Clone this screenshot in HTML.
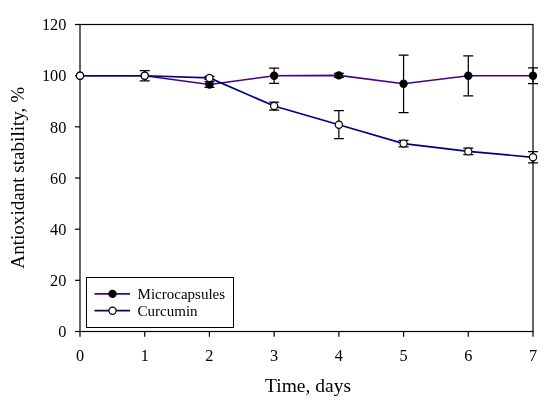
<!DOCTYPE html>
<html><head><meta charset="utf-8"><title>Antioxidant stability</title>
<style>html,body{margin:0;padding:0;background:#fff}body{width:550px;height:402px;overflow:hidden}</style></head>
<body>
<svg width="550" height="402" viewBox="0 0 550 402" style="display:block;font-family:'Liberation Serif',serif">
<rect width="550" height="402" fill="#fff"/>
<g stroke="#000" stroke-width="1.2" fill="none">
<rect x="80.0" y="24.5" width="453.0" height="307.0"/>
<line x1="75.0" y1="331.50" x2="80.0" y2="331.50"/>
<line x1="75.0" y1="280.33" x2="80.0" y2="280.33"/>
<line x1="75.0" y1="229.17" x2="80.0" y2="229.17"/>
<line x1="75.0" y1="178.00" x2="80.0" y2="178.00"/>
<line x1="75.0" y1="126.83" x2="80.0" y2="126.83"/>
<line x1="75.0" y1="75.67" x2="80.0" y2="75.67"/>
<line x1="75.0" y1="24.50" x2="80.0" y2="24.50"/>
<line x1="80.00" y1="331.5" x2="80.00" y2="336.8"/>
<line x1="144.71" y1="331.5" x2="144.71" y2="336.8"/>
<line x1="209.43" y1="331.5" x2="209.43" y2="336.8"/>
<line x1="274.14" y1="331.5" x2="274.14" y2="336.8"/>
<line x1="338.86" y1="331.5" x2="338.86" y2="336.8"/>
<line x1="403.57" y1="331.5" x2="403.57" y2="336.8"/>
<line x1="468.29" y1="331.5" x2="468.29" y2="336.8"/>
<line x1="533.00" y1="331.5" x2="533.00" y2="336.8"/>
</g>
<g font-size="16.3" fill="#000">
<text x="66.3" y="337.20" text-anchor="end">0</text>
<text x="66.3" y="286.03" text-anchor="end">20</text>
<text x="66.3" y="234.87" text-anchor="end">40</text>
<text x="66.3" y="183.70" text-anchor="end">60</text>
<text x="66.3" y="132.53" text-anchor="end">80</text>
<text x="66.3" y="81.37" text-anchor="end">100</text>
<text x="66.3" y="30.20" text-anchor="end">120</text>
<text x="80.00" y="360.8" text-anchor="middle">0</text>
<text x="144.71" y="360.8" text-anchor="middle">1</text>
<text x="209.43" y="360.8" text-anchor="middle">2</text>
<text x="274.14" y="360.8" text-anchor="middle">3</text>
<text x="338.86" y="360.8" text-anchor="middle">4</text>
<text x="403.57" y="360.8" text-anchor="middle">5</text>
<text x="468.29" y="360.8" text-anchor="middle">6</text>
<text x="533.00" y="360.8" text-anchor="middle">7</text>
</g>
<text x="308" y="392.2" font-size="19.5" text-anchor="middle">Time, days</text>
<text transform="translate(23.8,177.8) rotate(-90)" font-size="19.1" text-anchor="middle">Antioxidant stability, %</text>
<path d="M209.43 81.70V87.30M204.43 81.70H214.43M204.43 87.30H214.43" stroke="#000" stroke-width="1.25" fill="none"/>
<path d="M274.14 68.05V83.45M269.14 68.05H279.14M269.14 83.45H279.14" stroke="#000" stroke-width="1.25" fill="none"/>
<path d="M338.86 73.40V77.40M333.86 73.40H343.86M333.86 77.40H343.86" stroke="#000" stroke-width="1.25" fill="none"/>
<path d="M403.57 55.00V112.60M398.57 55.00H408.57M398.57 112.60H408.57" stroke="#000" stroke-width="1.25" fill="none"/>
<path d="M468.29 55.75V95.75M463.29 55.75H473.29M463.29 95.75H473.29" stroke="#000" stroke-width="1.25" fill="none"/>
<path d="M533.00 67.95V83.55M528.00 67.95H538.00M528.00 83.55H538.00" stroke="#000" stroke-width="1.25" fill="none"/>
<polyline points="80.00,75.75 144.71,75.75 209.43,84.50 274.14,75.75 338.86,75.40 403.57,83.80 468.29,75.75 533.00,75.75" fill="none" stroke="#47008a" stroke-width="1.6"/>
<circle cx="80.00" cy="75.75" r="4.2" fill="#000"/>
<circle cx="144.71" cy="75.75" r="4.2" fill="#000"/>
<circle cx="209.43" cy="84.50" r="4.2" fill="#000"/>
<circle cx="274.14" cy="75.75" r="4.2" fill="#000"/>
<circle cx="338.86" cy="75.40" r="4.2" fill="#000"/>
<circle cx="403.57" cy="83.80" r="4.2" fill="#000"/>
<circle cx="468.29" cy="75.75" r="4.2" fill="#000"/>
<circle cx="533.00" cy="75.75" r="4.2" fill="#000"/>
<path d="M144.71 70.55V80.95M139.71 70.55H149.71M139.71 80.95H149.71" stroke="#000" stroke-width="1.25" fill="none"/>
<path d="M209.43 76.40V79.40M204.43 76.40H214.43M204.43 79.40H214.43" stroke="#000" stroke-width="1.25" fill="none"/>
<path d="M274.14 102.00V110.00M269.14 102.00H279.14M269.14 110.00H279.14" stroke="#000" stroke-width="1.25" fill="none"/>
<path d="M338.86 110.70V138.70M333.86 110.70H343.86M333.86 138.70H343.86" stroke="#000" stroke-width="1.25" fill="none"/>
<path d="M403.57 140.40V146.80M398.57 140.40H408.57M398.57 146.80H408.57" stroke="#000" stroke-width="1.25" fill="none"/>
<path d="M468.29 148.10V154.70M463.29 148.10H473.29M463.29 154.70H473.29" stroke="#000" stroke-width="1.25" fill="none"/>
<path d="M533.00 151.70V162.90M528.00 151.70H538.00M528.00 162.90H538.00" stroke="#000" stroke-width="1.25" fill="none"/>
<polyline points="80.00,75.75 144.71,75.75 209.43,77.90 274.14,106.00 338.86,124.70 403.57,143.60 468.29,151.40 533.00,157.30" fill="none" stroke="#000086" stroke-width="1.7"/>
<circle cx="80.00" cy="75.75" r="3.6" fill="#fff" stroke="#000" stroke-width="1.2"/>
<circle cx="144.71" cy="75.75" r="3.6" fill="#fff" stroke="#000" stroke-width="1.2"/>
<circle cx="209.43" cy="77.90" r="3.6" fill="#fff" stroke="#000" stroke-width="1.2"/>
<circle cx="274.14" cy="106.00" r="3.6" fill="#fff" stroke="#000" stroke-width="1.2"/>
<circle cx="338.86" cy="124.70" r="3.6" fill="#fff" stroke="#000" stroke-width="1.2"/>
<circle cx="403.57" cy="143.60" r="3.6" fill="#fff" stroke="#000" stroke-width="1.2"/>
<circle cx="468.29" cy="151.40" r="3.6" fill="#fff" stroke="#000" stroke-width="1.2"/>
<circle cx="533.00" cy="157.30" r="3.6" fill="#fff" stroke="#000" stroke-width="1.2"/>
<rect x="86.5" y="277.5" width="147" height="50" fill="#fff" stroke="#000" stroke-width="1"/>
<line x1="94.5" y1="293.9" x2="130" y2="293.9" stroke="#47008a" stroke-width="1.6"/>
<circle cx="112.5" cy="293.9" r="4.2" fill="#000"/>
<line x1="94.5" y1="310.7" x2="130" y2="310.7" stroke="#000086" stroke-width="1.7"/>
<circle cx="112.5" cy="310.7" r="3.6" fill="#fff" stroke="#000" stroke-width="1.2"/>
<text x="137.6" y="298.7" font-size="15">Microcapsules</text>
<text x="137.6" y="315.5" font-size="15">Curcumin</text>
</svg>
</body></html>
